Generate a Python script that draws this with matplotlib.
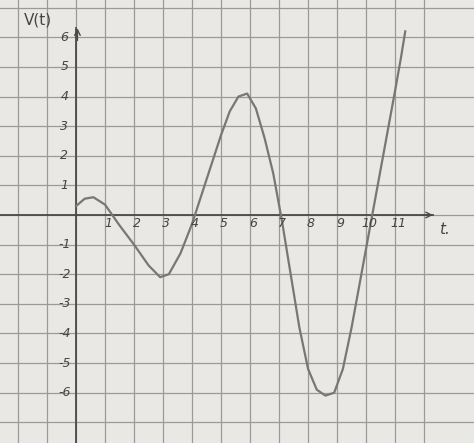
import matplotlib.pyplot as plt
import numpy as np

# values
t_vals = [0, 0.3, 0.6, 1.0, 1.5, 2.0, 2.5, 2.9, 3.2, 3.6, 4.0, 4.5, 5.0, 5.3, 5.6, 5.9, 6.2, 6.5, 6.8, 7.1, 7.4, 7.7, 8.0, 8.3, 8.6, 8.9, 9.2, 9.5, 9.8, 10.1, 10.4, 10.7, 11.0, 11.2, 11.35]
v_vals = [0.3, 0.55, 0.6, 0.35, -0.35, -1.0, -1.7, -2.1, -2.0, -1.3, -0.3, 1.2, 2.7, 3.5, 4.0, 4.1, 3.6, 2.6, 1.4, -0.2, -2.0, -3.8, -5.2, -5.9, -6.1, -6.0, -5.2, -3.8, -2.2, -0.6, 1.0, 2.6, 4.2, 5.3, 6.2]
x_ticks = [1, 2, 3, 4, 5, 6, 7, 8, 9, 10, 11]
y_ticks = [-6, -5, -4, -3, -2, -1, 1, 2, 3, 4, 5, 6]

fig = plt.figure(figsize=(4.74, 4.43), dpi=100)
fig.patch.set_facecolor('#e9e8e4')
ax = fig.add_axes([0, 0, 1, 1])
ax.set_facecolor('#e9e8e4')
ax.set_xlim(-2.62, 13.72)
ax.set_ylim(-7.7, 7.26)
ax.axis('off')

for gx in range(-2, 13):
    ax.axvline(gx, color='#9a9a98', lw=0.9, zorder=1)
for gy in range(-7, 8):
    ax.axhline(gy, color='#9a9a98', lw=0.9, zorder=1)

ax.plot([0, 0], [-7.7, 6.3], color='#4a4a4a', lw=1.3, zorder=2)
ax.plot([-2.62, 12.3], [0, 0], color='#4a4a4a', lw=1.3, zorder=2)
ax.annotate('', xy=(0.05, 6.4), xytext=(0.05, 5.8),
            arrowprops=dict(arrowstyle='->', color='#4a4a4a', lw=1))
ax.annotate('', xy=(12.4, 0), xytext=(11.8, 0),
            arrowprops=dict(arrowstyle='->', color='#4a4a4a', lw=1))

ax.plot(t_vals, v_vals, color='#777777', lw=1.6, zorder=3)

for x in x_ticks:
    ax.text(x + 0.1, -0.3, str(x), fontsize=9, color='#444444', ha='center', va='center', style='italic')
for y in y_ticks:
    ax.text(-0.4, y, str(y), fontsize=9, color='#444444', ha='center', va='center', style='italic')
ax.text(-1.3, 6.6, 'V(t)', fontsize=11, color='#444444', ha='center', va='center')
ax.text(12.7, -0.5, 't.', fontsize=11, color='#444444', ha='center', va='center', style='italic')

fig.savefig('out.png', dpi=100)
